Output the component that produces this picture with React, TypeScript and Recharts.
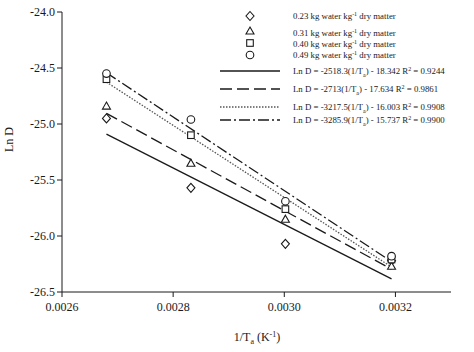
import { ComposedChart, Scatter, Line, XAxis, YAxis } from 'recharts'

// 1/Ta (K^-1) for 100, 80, 60 and 40 °C
const invTemp = [0.00268, 0.002832, 0.003002, 0.003193]

// Ln D measured at each moisture content
const lnD023 = [-24.95, -25.57, -26.07, -26.22]
const lnD031 = [-24.84, -25.35, -25.85, -26.27]
const lnD040 = [-24.60, -25.10, -25.76, -26.21]
const lnD049 = [-24.55, -24.96, -25.69, -26.18]

// fitted line ends (first and last temperature)
const fitEnds = [invTemp[0], invTemp[3]]
const fit023 = [-25.091, -26.383]
const fit031 = [-24.905, -26.297]
const fit040 = [-24.626, -26.277]
const fit049 = [-24.543, -26.229]

const xTicks = [0.0026, 0.0028, 0.003, 0.0032]
const yTicks = [-26.5, -26.0, -25.5, -25.0, -24.5, -24.0]

const markerLabels = [
  '0.23 kg water kg',
  '0.31 kg water kg',
  '0.40 kg water kg',
  '0.49 kg water kg',
]
const fitLabels = [
  ['-2518.3', '- 18.342', '0.9244'],
  ['-2713', '- 17.634', '0.9861'],
  ['-3217.5', '- 16.003', '0.9908'],
  ['-3285.9', '- 15.737', '0.9900'],
]

const toPoints = (xs: number[], ys: number[]) => xs.map((x, i) => ({ x, y: ys[i] }))

const INK = '#1a1a1a'
const FONT = '"Liberation Serif", "DejaVu Serif", serif'

type MarkProps = { cx?: number; cy?: number }

const Diamond = ({ cx = 0, cy = 0 }: MarkProps) => (
  <path d={`M${cx},${cy - 4.5}L${cx + 4},${cy}L${cx},${cy + 4.5}L${cx - 4},${cy}Z`} fill="#fff" stroke={INK} strokeWidth={1.1} />
)
const Triangle = ({ cx = 0, cy = 0 }: MarkProps) => (
  <path d={`M${cx},${cy - 4}L${cx + 4},${cy + 3}L${cx - 4},${cy + 3}Z`} fill="#fff" stroke={INK} strokeWidth={1.1} />
)
const Square = ({ cx = 0, cy = 0 }: MarkProps) => (
  <rect x={cx - 3.3} y={cy - 3.3} width={6.6} height={6.6} fill="#fff" stroke={INK} strokeWidth={1.1} />
)
const Circle = ({ cx = 0, cy = 0 }: MarkProps) => (
  <circle cx={cx} cy={cy} r={3.8} fill="#fff" stroke={INK} strokeWidth={1.1} />
)

const markers = [Diamond, Triangle, Square, Circle]
const dashes = ['0', '12 5', '1.5 1.5', '11 3 2 3']
const lineColors = [INK, INK, '#555', INK]

// legend + x-axis title drawn over the chart
const Overlay = () => (
  <svg width={474} height={352} style={{ position: 'absolute', left: 0, top: 0, fontFamily: FONT, pointerEvents: 'none' }}>
    <g transform="translate(220,0)" fontSize={8.8}>
      {markerLabels.map((label, i) => {
        const Mark = markers[i]
        const y = [16, 31, 43, 55][i]
        const ty = [16, 33, 44, 55][i]
        return (
          <g key={label}>
            <Mark cx={30} cy={y} />
            <text x={73} y={ty + 3} fill={INK}>
              {label}
              <tspan dy={-3.5} fontSize={6}>-1</tspan>
              <tspan dy={3.5}> dry matter</tspan>
            </text>
          </g>
        )
      })}
      {fitLabels.map(([slope, icpt, r2], i) => {
        const y = [71, 89, 107, 120][i]
        return (
          <g key={slope}>
            <line x1={0} x2={60} y1={y} y2={y} stroke={lineColors[i]} strokeWidth={1.3} strokeDasharray={dashes[i]} />
            <text x={73} y={y + 3} fill={INK}>
              {`Ln D = ${slope}(1/T`}
              <tspan dy={2.5} fontSize={6}>a</tspan>
              <tspan dy={-2.5}>{`) ${icpt} R`}</tspan>
              <tspan dy={-3.5} fontSize={6}>2</tspan>
              <tspan dy={3.5}>{` = ${r2}`}</tspan>
            </text>
          </g>
        )
      })}
    </g>
    <text x={257} y={341} textAnchor="middle" fill={INK} fontSize={12}>
      1/T<tspan dy={3} fontSize={8}>a</tspan>
      <tspan dy={-3}> (K</tspan>
      <tspan dy={-4.5} fontSize={8}>-1</tspan>
      <tspan dy={4.5}>)</tspan>
    </text>
  </svg>
)

const markerSeries = [lnD023, lnD031, lnD040, lnD049]
const fitSeries = [fit023, fit031, fit040, fit049]

export default function App() {
  return (
    <div style={{ position: 'absolute', left: 0, top: 0, width: 474, height: 352, background: '#fff' }}>
      <ComposedChart width={474} height={352} margin={{ top: 12, right: 23, left: 0, bottom: 0 }}>
        <XAxis
          type="number"
          dataKey="x"
          domain={[0.0026, 0.0033]}
          ticks={xTicks}
          tickFormatter={(v: number) => v.toFixed(4)}
          height={60}
          stroke={INK}
          tickSize={5}
          tick={{ fill: INK, fontSize: 12, fontFamily: FONT, dy: 3 }}
          allowDataOverflow
        />
        <YAxis
          type="number"
          dataKey="y"
          domain={[-26.5, -24]}
          ticks={yTicks}
          tickFormatter={(v: number) => v.toFixed(1)}
          width={62}
          stroke={INK}
          tickSize={5}
          tick={{ fill: INK, fontSize: 12, fontFamily: FONT }}
          allowDataOverflow
          label={{ value: 'Ln D', angle: -90, position: 'insideLeft', offset: 9, fill: INK, fontSize: 12, fontFamily: FONT }}
        />
        {fitSeries.map((ys, i) => (
          <Line
            key={`fit${i}`}
            data={toPoints(fitEnds, ys)}
            dataKey="y"
            type="linear"
            stroke={lineColors[i]}
            strokeWidth={1.3}
            strokeDasharray={dashes[i]}
            dot={false}
            activeDot={false}
            isAnimationActive={false}
            legendType="none"
          />
        ))}
        {markerSeries.map((ys, i) => {
          const Mark = markers[i]
          return (
            <Scatter
              key={`pts${i}`}
              data={toPoints(invTemp, ys)}
              dataKey="y"
              shape={(p: MarkProps) => <Mark cx={p.cx} cy={p.cy} />}
              isAnimationActive={false}
              legendType="none"
            />
          )
        })}
      </ComposedChart>
      <Overlay />
    </div>
  )
}
